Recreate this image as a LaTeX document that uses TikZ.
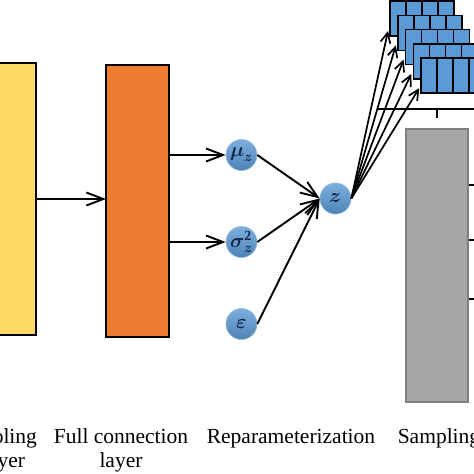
\documentclass[tikz,border=0pt]{standalone}
\usepackage{fontspec}
\usepackage{unicode-math}
\setmainfont{Liberation Serif}
\usetikzlibrary{arrows.meta}
\definecolor{yel}{HTML}{FFD966}
\definecolor{ora}{HTML}{ED7D31}
\definecolor{blu}{HTML}{5B9BD5}
\definecolor{navy}{HTML}{14284B}
\definecolor{gry}{HTML}{A6A6A6}
\definecolor{gryd}{HTML}{808080}
\begin{document}
\begin{tikzpicture}[x=1pt,y=-1pt,
  layerbox/.style={draw=black, line width=1.8pt, inner sep=0pt, outer sep=0pt},
  neuron/.style={circle, minimum size=31pt, inner sep=0pt, draw=blu!70!white, line width=0.6pt,
    top color=blu!80!white, bottom color=blu!85!black, text=navy, font=\fontsize{20}{20}\selectfont},
  arr/.style={line width=1.9pt, -{Straight Barb[length=17pt,width=13pt,line width=1.9pt]}},
  fan/.style={line width=1.7pt, -{Straight Barb[length=10pt,width=10pt,line width=1.7pt]}},
  cell/.style={fill=blu, draw=black, line width=1.5pt},
  lab/.style={font=\fontsize{21.5}{24.5}\selectfont, align=center, anchor=base}
]
\clip (0,0) rectangle (474,474);
\fill[white] (0,0) rectangle (474,474);

% layer boxes
\node[layerbox, fill=yel, minimum width=66pt, minimum height=272pt] (pool) at (3,199) {};
\node[layerbox, fill=ora, minimum width=63pt, minimum height=272pt] (fc) at (137.5,201) {};

% neurons
\node[neuron] (mu) at (241.5,155) {$\symbfit{\mu}_{\symbfit{z}}$};
\node[neuron] (sig) at (241.5,242) {$\symbfit{\sigma}_{\symbfit{z}}^{\mathbf{2}}$};
\node[neuron] (eps) at (241.5,324) {$\symbfit{\varepsilon}$};
\node[neuron] (z) at (335.5,198.5) {$\symbfit{z}$};

% connectors
\draw[arr] (pool.east |- 0,199) -- (fc.west |- 0,199);
\draw[arr] (fc.east |- mu) -- (mu);
\draw[arr] (fc.east |- sig) -- (sig);
\draw[arr] (mu.east) -- (z.west);
\draw[arr] (sig.east) -- (z.west);
\draw[arr] (eps.east) -- (z.west);

% sampling stacks
\foreach \i in {0,...,4}{
  \pgfmathsetmacro{\lx}{390+7.8*\i}
  \pgfmathsetmacro{\ty}{1+14.3*\i}
  \foreach \c in {0,...,3}{
    \draw[cell] (\lx+16*\c,\ty) rectangle ++(16,35);
  }
  \coordinate (t\i) at (\lx-2,\ty+30);
}
\foreach \i in {0,...,4}{
  \draw[fan] (z.east) -- (t\i);
}

% bracket
\coordinate (bl) at (378,109);
\coordinate (br) at (480,109);
\coordinate (bm) at (437,109);
\coordinate (bt) at (437,118);
\draw[line width=1.3pt] (bl) -- (br);
\draw[line width=1.3pt] (bm) -- (bt);

% sampling output
\node[draw=gryd, fill=gry, line width=1.5pt, minimum width=62pt, minimum height=273pt, inner sep=0pt] (out) at (437,265.5) {};
\foreach \yy in {185,240,299}{
  \draw[line width=1.5pt] (out.east |- 0,\yy) -- ++(8,0);
}

% labels
\node[lab] (lp) at (3.5,467.5) {Pooling\\layer};
\node[lab] (lf) at (121,467.5) {Full connection\\layer};
\node[lab] (lr) at (291,443) {Reparameterization};
\node[lab] (ls) at (439,443) {Sampling};
\end{tikzpicture}
\end{document}
